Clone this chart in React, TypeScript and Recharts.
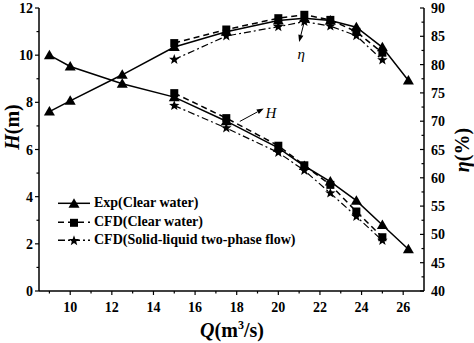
import {
  ComposedChart,
  Line,
  XAxis,
  YAxis,
  Legend,
  ReferenceLine,
  ReferenceDot,
} from "recharts";

// flow rate Q (m3/s)
const expQ = [9, 10, 12.5, 15, 17.5, 20, 21.25, 22.5, 23.75, 25, 26.25];
const expH = [10.0, 9.52, 8.79, 8.22, 7.2, 6.07, 5.3, 4.64, 3.83, 2.8, 1.77];
const expEta = [71.7, 73.6, 78.2, 83.1, 85.8, 87.8, 88.2, 87.8, 86.6, 83.05, 77.2];

const cfdQ = [15, 17.5, 20, 21.25, 22.5, 23.75, 25];
const cfdH = [8.39, 7.33, 6.16, 5.33, 4.5, 3.37, 2.28];
const cfdEta = [83.8, 86.2, 88.2, 88.8, 87.9, 85.8, 82.1];
const slH = [7.86, 6.91, 5.87, 5.11, 4.15, 3.16, 2.14];
const slEta = [80.9, 85.05, 86.7, 87.6, 86.8, 85.1, 80.8];

const xTicks = [9, 10, 11, 12, 13, 14, 15, 16, 17, 18, 19, 20, 21, 22, 23, 24, 25, 26];
const hTicks = [0, 1, 2, 3, 4, 5, 6, 7, 8, 9, 10, 11, 12];
const etaTicks = [40, 42.5, 45, 47.5, 50, 52.5, 55, 57.5, 60, 62.5, 65, 67.5, 70, 72.5, 75, 77.5, 80, 82.5, 85, 87.5, 90];

const legendNames = ["Exp(Clear water)", "CFD(Clear water)", "CFD(Solid-liquid two-phase flow)"];

const toSeries = (qs: number[], vs: number[]) => qs.map((q, i) => ({ q, v: vs[i] }));

const FONT = "'Liberation Serif', 'Times New Roman', serif";
const DASH = "6 4";
const DASHDOT = "7 3 2 3";

const Tri = ({ cx, cy }: any) => (
  <polygon points={`${cx},${cy - 5.5} ${cx - 5.5},${cy + 4} ${cx + 5.5},${cy + 4}`} fill="#000" />
);
const Sq = ({ cx, cy }: any) => <rect x={cx - 4} y={cy - 4} width={8} height={8} fill="#000" />;
const Star = ({ cx, cy }: any) => {
  const pts: string[] = [];
  for (let i = 0; i < 10; i++) {
    const r = i % 2 === 0 ? 5.5 : 2.3;
    const a = -Math.PI / 2 + (i * Math.PI) / 5;
    pts.push(`${cx + r * Math.cos(a)},${cy + r * Math.sin(a)}`);
  }
  return <polygon points={pts.join(" ")} fill="#000" />;
};

const dotOf = (Shape: any) => (p: any) => <Shape key={p.index} cx={p.cx} cy={p.cy} />;

const XTick = (props: any) => {
  const { x, y, payload } = props;
  const major = payload.value % 2 === 0;
  return (
    <g>
      <line x1={x} y1={y} x2={x} y2={y + (major ? 4 : 2.5)} stroke="#000" strokeWidth={1.2} />
      {major && (
        <text x={x} y={y + 21} textAnchor="middle" fontSize={14} fontWeight="bold" fontFamily={FONT} fill="#000">
          {payload.value}
        </text>
      )}
    </g>
  );
};

const HTick = (props: any) => {
  const { x, y, payload } = props;
  const major = payload.value % 2 === 0;
  return (
    <g>
      <line x1={x} y1={y} x2={x - (major ? 4 : 2.5)} y2={y} stroke="#000" strokeWidth={1.2} />
      {major && (
        <text x={x - 6} y={y + 5} textAnchor="end" fontSize={14} fontWeight="bold" fontFamily={FONT} fill="#000">
          {payload.value}
        </text>
      )}
    </g>
  );
};

const EtaTick = (props: any) => {
  const { x, y, payload } = props;
  const major = payload.value % 5 === 0;
  return (
    <g>
      <line x1={x} y1={y} x2={x - (major ? 4 : 2.5)} y2={y} stroke="#000" strokeWidth={1.2} />
      {major && (
        <text x={x + 7} y={y + 5} textAnchor="start" fontSize={14} fontWeight="bold" fontFamily={FONT} fill="#000">
          {payload.value}
        </text>
      )}
    </g>
  );
};

const Arrow = (p: any) => {
  const { x1, y1, x2, y2 } = p;
  const ang = Math.atan2(y2 - y1, x2 - x1);
  const len = 7;
  const w = 2.6;
  const bx = x2 - len * Math.cos(ang);
  const by = y2 - len * Math.sin(ang);
  const px = -Math.sin(ang) * w;
  const py = Math.cos(ang) * w;
  return (
    <g>
      <line x1={x1} y1={y1} x2={bx} y2={by} stroke="#000" strokeWidth={1} />
      <polygon points={`${x2},${y2} ${bx + px},${by + py} ${bx - px},${by - py}`} fill="#000" />
    </g>
  );
};

const LegendBox = () => {
  const marks = [Tri, Sq, Star];
  const dashes = [undefined, DASH, DASHDOT];
  return (
    <div style={{ fontFamily: FONT, fontWeight: "bold", fontSize: 14, lineHeight: "18.7px" }}>
      {legendNames.map((name, i) => {
        const M = marks[i];
        return (
          <div key={name} style={{ display: "flex", alignItems: "center", whiteSpace: "nowrap" }}>
            <svg width={38} height={18.7} style={{ display: "block" }}>
              <line x1={2} y1={9.3} x2={34} y2={9.3} stroke="#000" strokeWidth={1.5} strokeDasharray={dashes[i]} />
              <M cx={18} cy={9.8} />
            </svg>
            <span>{name}</span>
          </div>
        );
      })}
    </div>
  );
};

export default function App() {
  return (
    <div style={{ position: "absolute", left: 0, top: 0, width: 474, height: 343, background: "#fff" }}>
      <ComposedChart width={474} height={343} margin={{ top: 8, right: 0, bottom: 0, left: 0 }}>
        <XAxis
          dataKey="q"
          type="number"
          domain={[8.5, 27]}
          ticks={xTicks}
          interval={0}
          height={52}
          tickSize={0}
          tickMargin={0}
          tick={XTick}
          axisLine={{ stroke: "#000", strokeWidth: 1.5 }}
          allowDataOverflow
        />
        <YAxis
          yAxisId="h"
          orientation="left"
          type="number"
          domain={[0, 12]}
          ticks={hTicks}
          interval={0}
          width={39}
          tickSize={0}
          tickMargin={0}
          tick={HTick}
          axisLine={{ stroke: "#000", strokeWidth: 1.5 }}
        />
        <YAxis
          yAxisId="eta"
          orientation="right"
          type="number"
          domain={[40, 90]}
          ticks={etaTicks}
          interval={0}
          width={50}
          tickSize={0}
          tickMargin={0}
          tick={EtaTick}
          axisLine={{ stroke: "#000", strokeWidth: 1.5 }}
        />
        <Legend
          layout="vertical"
          align="center"
          verticalAlign="middle"
          wrapperStyle={{ left: 56, top: 194, width: "auto" }}
          content={LegendBox}
        />

        <Line yAxisId="h" data={toSeries(expQ, expH)} dataKey="v" stroke="#000" strokeWidth={1.5} dot={dotOf(Tri)} isAnimationActive={false} />
        <Line yAxisId="h" data={toSeries(cfdQ, cfdH)} dataKey="v" stroke="#000" strokeWidth={1.5} strokeDasharray={DASH} dot={dotOf(Sq)} isAnimationActive={false} />
        <Line yAxisId="h" data={toSeries(cfdQ, slH)} dataKey="v" stroke="#000" strokeWidth={1.2} strokeDasharray={DASHDOT} dot={dotOf(Star)} isAnimationActive={false} />

        <Line yAxisId="eta" data={toSeries(expQ, expEta)} dataKey="v" stroke="#000" strokeWidth={1.5} dot={dotOf(Tri)} isAnimationActive={false} />
        <Line yAxisId="eta" data={toSeries(cfdQ, cfdEta)} dataKey="v" stroke="#000" strokeWidth={1.5} strokeDasharray={DASH} dot={dotOf(Sq)} isAnimationActive={false} />
        <Line yAxisId="eta" data={toSeries(cfdQ, slEta)} dataKey="v" stroke="#000" strokeWidth={1.2} strokeDasharray={DASHDOT} dot={dotOf(Star)} isAnimationActive={false} />

        <ReferenceLine yAxisId="eta" segment={[{ x: 21.25, y: 87.6 }, { x: 21.0, y: 84.0 }]} shape={Arrow} />
        <ReferenceLine yAxisId="h" segment={[{ x: 18.15, y: 7.19 }, { x: 19.3, y: 7.74 }]} shape={Arrow} />
        <ReferenceDot
          yAxisId="eta"
          x={21.1}
          y={81.9}
          shape={(p: any) => (
            <text x={p.cx} y={p.cy + 5} textAnchor="middle" fontSize={15} fontStyle="italic" fontFamily={FONT} fill="#000">
              η
            </text>
          )}
        />
        <ReferenceDot
          yAxisId="h"
          x={19.65}
          y={7.56}
          shape={(p: any) => (
            <text x={p.cx} y={p.cy + 5} textAnchor="middle" fontSize={15} fontStyle="italic" fontFamily={FONT} fill="#000">
              H
            </text>
          )}
        />
      </ComposedChart>
      <svg width={474} height={343} style={{ position: "absolute", left: 0, top: 0, pointerEvents: "none" }}>
        <text x={232} y={337} textAnchor="middle" fontSize={20} fontWeight="bold" fontFamily={FONT} fill="#000">
          <tspan fontStyle="italic">Q</tspan>
          <tspan>(m</tspan>
          <tspan fontSize={12} dy={-8}>3</tspan>
          <tspan dy={8}>/s)</tspan>
        </text>
        <text transform="translate(19,127) rotate(-90)" textAnchor="middle" fontSize={20} fontWeight="bold" fontFamily={FONT} fill="#000">
          <tspan fontStyle="italic">H</tspan>
          <tspan>(m)</tspan>
        </text>
        <text transform="translate(469,150) rotate(-90)" textAnchor="middle" fontSize={20} fontWeight="bold" fontFamily={FONT} fill="#000">
          <tspan fontStyle="italic">η</tspan>
          <tspan>(%)</tspan>
        </text>
      </svg>
    </div>
  );
}
